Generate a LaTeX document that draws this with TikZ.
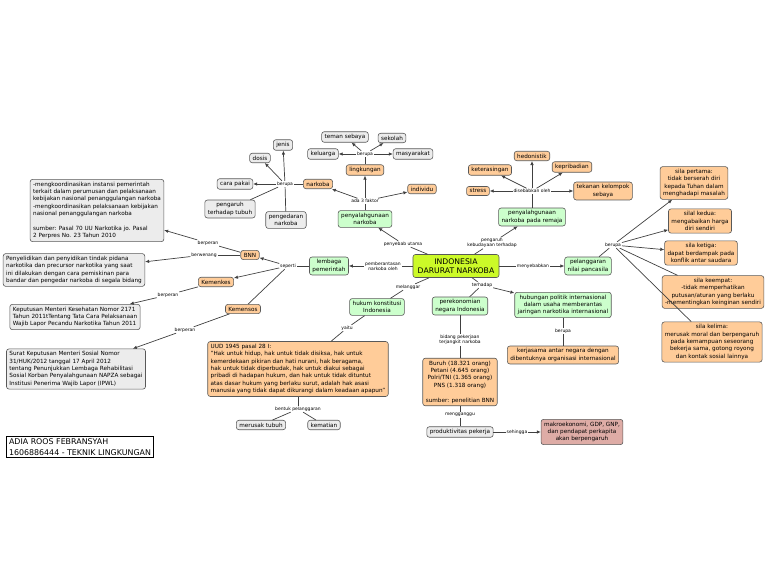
\documentclass[tikz,border=0pt]{standalone}
\usepackage{fontspec}
\setmainfont{DejaVu Sans}
\usepackage{tikz}
\usetikzlibrary{arrows.meta, positioning}
\definecolor{mapOrange}{RGB}{255,204,153}
\definecolor{mapGreen}{RGB}{204,255,204}
\definecolor{mapGray}{RGB}{236,236,236}
\definecolor{mapLime}{RGB}{204,250,40}
\definecolor{mapRose}{RGB}{222,172,166}

\begin{document}
\begin{tikzpicture}[
    on grid,
    concept/.style={rectangle, rounded corners=2.5pt, draw=black!65, line width=0.6pt, align=center, inner xsep=3pt, inner ysep=2.5pt, font=\fontsize{5.7}{7.4}\selectfont},
    note/.style={concept, align=left},
    link/.style={inner sep=0.8pt, align=center, font=\fontsize{4.5}{5.2}\selectfont},
    line/.style={draw=black!75, line width=0.7pt},
    arrow/.style={line, -{Latex[length=4pt,width=3.5pt]}}
]
\useasboundingbox (-456pt,-312pt) rectangle (312pt,266pt);

\node[concept, fill=mapLime, font=\fontsize{7.7}{9}\selectfont, minimum width=86pt, minimum height=23pt] (central) at (0,0) {INDONESIA\\DARURAT NARKOBA};

\node[link] (cause) [above left=22pt and 53pt of central] {penyebab utama};
\node[concept, fill=mapGreen] (abuse) [above left=47pt and 91pt of central] {penyalahgunaan\\narkoba};
\node[link] (factors) [above=18pt of abuse] {ada 3 faktor};
\node[concept, fill=mapOrange] (drug) [above left=35pt and 47pt of abuse] {narkoba};
\node[concept, fill=mapOrange] (environment) [above=49pt of abuse] {lingkungan};
\node[concept, fill=mapOrange] (individual) [above right=30pt and 57pt of abuse] {individu};
\node[link] (envKinds) [above=16pt of environment] {berupa};
\node[concept, fill=mapGray] (family) [above left=16pt and 42pt of environment] {keluarga};
\node[concept, fill=mapGray] (society) [above right=16pt and 48pt of environment] {masyarakat};
\node[concept, fill=mapGray] (peers) [above left=33pt and 20pt of environment] {teman sebaya};
\node[concept, fill=mapGray] (school) [above right=32pt and 27pt of environment] {sekolah};
\node[link] (drugKinds) [left=33pt of drug] {berupa};
\node[concept, fill=mapGray] (kind) [above left=39pt and 35pt of drug] {jenis};
\node[concept, fill=mapGray] (dose) [above left=26pt and 58pt of drug] {dosis};
\node[concept, fill=mapGray] (usage) [left=83pt of drug] {cara pakai};
\node[concept, fill=mapGray] (bodyEffect) [below left=25pt and 88pt of drug] {pengaruh\\terhadap tubuh};
\node[concept, fill=mapGray] (trade) [below left=36pt and 32pt of drug] {pengedaran\\narkoba};

\node[link] (culture) [above right=23pt and 36pt of central] {pengaruh\\kebudayaan terhadap};
\node[concept, fill=mapGreen] (youth) [above right=49pt and 76pt of central] {penyalahgunaan\\narkoba pada remaja};
\node[link] (causes) [above=26pt of youth] {disebabkan oleh};
\node[concept, fill=mapOrange] (hedonism) [above=61pt of youth] {hedonistik};
\node[concept, fill=mapOrange] (alienation) [above left=47pt and 42pt of youth] {keterasingan};
\node[concept, fill=mapOrange] (personality) [above right=50pt and 40pt of youth] {kepribadian};
\node[concept, fill=mapOrange] (stress) [above left=26pt and 54pt of youth] {stress};
\node[concept, fill=mapOrange] (peerPressure) [above right=26pt and 71pt of youth] {tekanan kelompok\\sebaya};

\node[link] (leadsTo) [right=77pt of central] {menyebabkan};
\node[concept, fill=mapGreen] (pancasila) [right=132pt of central] {pelanggaran\\nilai pancasila};
\node[link] (violKinds) [above right=21pt and 25pt of pancasila] {berupa};
\node[concept, fill=mapOrange] (sila1) [above right=83pt and 106pt of pancasila] {sila pertama:\\tidak berserah diri\\kepada Tuhan dalam\\menghadapi masalah};
\node[concept, fill=mapOrange] (sila2) [above right=45pt and 112pt of pancasila] {silal kedua:\\mengabaikan harga\\diri sendiri};
\node[concept, fill=mapOrange] (sila3) [above right=13pt and 113pt of pancasila] {sila ketiga:\\dapat berdampak pada\\konflik antar saudara};
\node[concept, fill=mapOrange] (sila4) [below right=26pt and 125pt of pancasila] {sila keempat:\\-tidak memperhatikan\\putusan/aturan yang berlaku\\-mementingkan keinginan sendiri};
\node[concept, fill=mapOrange] (sila5) [below right=76pt and 124pt of pancasila] {sila kelima:\\merusak moral dan berpengaruh\\pada kemampuan seseorang\\bekerja sama, gotong royong\\dan kontak sosial lainnya};

\node[link] (toward) [below right=19pt and 26pt of central] {terhadap};
\node[concept, fill=mapGreen] (politics) [below right=39pt and 107pt of central] {hubungan politik internasional\\dalam usaha memberantas\\jaringan narkotika internasional};
\node[link] (polKinds) [below=26pt of politics] {berupa};
\node[concept, fill=mapOrange] (cooperation) [below=50pt of politics] {kerjasama antar negara dengan\\dibentuknya organisasi internasional};
\node[concept, fill=mapGreen] (economy) [below right=40pt and 4pt of central] {perekonomian\\negara Indonesia};
\node[link] (jobs) [below=34pt of economy] {bidang pekerjaan\\terjangkit narkoba};
\node[concept, fill=mapOrange] (workers) [below=76pt of economy] {Buruh (18.321 orang)\\Petani (4.645 orang)\\Polri/TNI (1.365 orang)\\PNS (1.318 orang)\\[7.4pt]sumber: penelitian BNN};
\node[link] (disturbs) [below=33pt of workers] {mengganggu};
\node[concept, fill=mapGray] (productivity) [below=50pt of workers] {produktivitas pekerja};
\node[link] (hence) [right=57pt of productivity] {sehingga};
\node[concept, fill=mapRose] (macro) [right=122pt of productivity] {makroekonomi, GDP, GNP,\\dan pendapat perkapita\\akan berpengaruh};

\node[link] (violates) [below left=21pt and 48pt of central] {melanggar};
\node[concept, fill=mapGreen] (constitution) [below left=41pt and 79pt of central] {hukum konstitusi\\Indonesia};
\node[link] (namely) [below left=21pt and 30pt of constitution] {yaitu};
\node[note, fill=mapOrange] (uud) [below left=62pt and 79pt of constitution] {UUD 1945 pasal 28 I:\\"Hak untuk hidup, hak untuk tidak disiksa, hak untuk\\kemerdekaan pikiran dan hati nurani, hak beragama,\\hak untuk tidak diperbudak, hak untuk diakui sebagai\\pribadi di hadapan hukum, dan hak untuk tidak dituntut\\atas dasar hukum yang berlaku surut, adalah hak asasi\\manusia yang tidak dapat dikurangi dalam keadaan apapun"};
\node[link] (forms) [below=40pt of uud] {bentuk pelanggaran};
\node[concept, fill=mapGray] (bodyDamage) [below left=56pt and 37pt of uud] {merusak tubuh};
\node[concept, fill=mapGray] (death) [below right=56pt and 26pt of uud] {kematian};

\node[link] (eradication) [left=73pt of central] {pemberantasan\\narkoba oleh};
\node[concept, fill=mapGreen] (agency) [left=127pt of central] {lembaga\\pemerintah};
\node[link] (suchAs) [left=41pt of agency] {seperti};
\node[concept, fill=mapOrange] (bnn) [above left=11pt and 79pt of agency] {BNN};
\node[concept, fill=mapOrange] (kemenkes) [below left=16pt and 113pt of agency] {Kemenkes};
\node[concept, fill=mapOrange] (kemensos) [below left=43pt and 86pt of agency] {Kemensos};
\node[link] (bnnRole) [above left=12pt and 42pt of bnn] {berperan};
\node[note, fill=mapGray] (bnnTask) [above left=44.5pt and 153pt of bnn] {-mengkoordinasikan instansi pemerintah\\terkait dalam perumusan dan pelaksanaan\\kebijakan nasional penanggulangan narkoba\\-mengkoordinasikan pelaksanaan kebijakan\\nasional penanggulangan narkoba\\[7.4pt]sumber: Pasal 70 UU Narkotika jo. Pasal\\2 Perpres No. 23 Tahun 2010};
\node[link] (bnnAuth) [left=46pt of bnn] {berwenang};
\node[note, fill=mapGray] (investigation) [below left=15pt and 176pt of bnn] {Penyelidikan dan penyidikan tindak pidana\\narkotika dan precursor narkotika yang saat\\ini dilakukan dengan cara pemiskinan para\\bandar dan pengedar narkoba di segala bidang};
\node[link] (kesRole) [below left=13pt and 48pt of kemenkes] {berperan};
\node[note, fill=mapGray] (kesDecree) [below left=35pt and 141pt of kemenkes] {Keputusan Menteri Kesehatan Nomor 2171\\Tahun 2011tTentang Tata Cara Pelaksanaan\\Wajib Lapor Pecandu Narkotika Tahun 2011};
\node[link] (sosRole) [below left=21pt and 58pt of kemensos] {berperan};
\node[note, fill=mapGray] (sosDecree) [below left=60pt and 167pt of kemensos] {Surat Keputusan Menteri Sosial Nomor\\31/HUK/2012 tanggal 17 April 2012\\tentang Penunjukkan Lembaga Rehabilitasi\\Sosial Korban Penyalahgunaan NAPZA sebagai\\Institusi Penerima Wajib Lapor (IPWL)};

\node[draw, line width=0.8pt, align=left, inner sep=2.2pt, font=\fontsize{7.9}{10.5}\selectfont] (author) at (-376pt,-181pt) {ADIA ROOS FEBRANSYAH\\1606886444 - TEKNIK LINGKUNGAN};

\draw[line] (central) -- (cause);
\draw[arrow] (cause) -- (abuse);
\draw[line] (abuse) -- (factors);
\draw[arrow] (factors) -- (drug);
\draw[arrow] (factors) -- (environment);
\draw[arrow] (factors) -- (individual);
\draw[line] (environment) -- (envKinds);
\draw[arrow] (envKinds) -- (family);
\draw[arrow] (envKinds) -- (society);
\draw[arrow] (envKinds) -- (peers);
\draw[arrow] (envKinds) -- (school);
\draw[line] (drug) -- (drugKinds);
\draw[arrow] (drugKinds) -- (kind);
\draw[arrow] (drugKinds) -- (dose);
\draw[arrow] (drugKinds) -- (usage);
\draw[line] (drugKinds) -- (bodyEffect);
\draw[line] (drugKinds) -- (trade);
\draw[line] (central) -- (culture);
\draw[arrow] (culture) -- (youth);
\draw[line] (youth) -- (causes);
\draw[arrow] (causes) -- (hedonism);
\draw[arrow] (causes) -- (alienation);
\draw[arrow] (causes) -- (personality);
\draw[arrow] (causes) -- (stress);
\draw[arrow] (causes) -- (peerPressure);
\draw[line] (central) -- (leadsTo);
\draw[arrow] (leadsTo) -- (pancasila);
\draw[line] (pancasila) -- (violKinds);
\draw[arrow] (violKinds) -- (sila1);
\draw[arrow] (violKinds) -- (sila2);
\draw[arrow] (violKinds) -- (sila3);
\draw[line] (violKinds) -- (sila4);
\draw[line] (violKinds) -- (sila5);
\draw[line] (central) -- (toward);
\draw[arrow] (toward) -- (politics);
\draw[line] (toward) -- (economy);
\draw[line] (politics) -- (polKinds);
\draw[line] (polKinds) -- (cooperation);
\draw[line] (economy) -- (jobs);
\draw[line] (jobs) -- (workers);
\draw[line] (workers) -- (disturbs);
\draw[line] (disturbs) -- (productivity);
\draw[line] (productivity) -- (hence);
\draw[arrow] (hence) -- (macro);
\draw[line] (central) -- (violates);
\draw[line] (violates) -- (constitution);
\draw[line] (constitution) -- (namely);
\draw[line] (namely) -- (uud);
\draw[line] (uud) -- (forms);
\draw[line] (forms) -- (bodyDamage);
\draw[line] (forms) -- (death);
\draw[line] (central) -- (eradication);
\draw[arrow] (eradication) -- (agency);
\draw[line] (agency) -- (suchAs);
\draw[arrow] (suchAs) -- (bnn);
\draw[arrow] (suchAs) -- (kemenkes);
\draw[line] (suchAs) -- (kemensos);
\draw[line] (bnn) -- (bnnRole);
\draw[arrow] (bnnRole) -- (bnnTask);
\draw[line] (bnn) -- (bnnAuth);
\draw[arrow] (bnnAuth) -- (investigation);
\draw[line] (kemenkes) -- (kesRole);
\draw[arrow] (kesRole) -- (kesDecree);
\draw[line] (kemensos) -- (sosRole);
\draw[arrow] (sosRole) -- (sosDecree);
\end{tikzpicture}
\end{document}
